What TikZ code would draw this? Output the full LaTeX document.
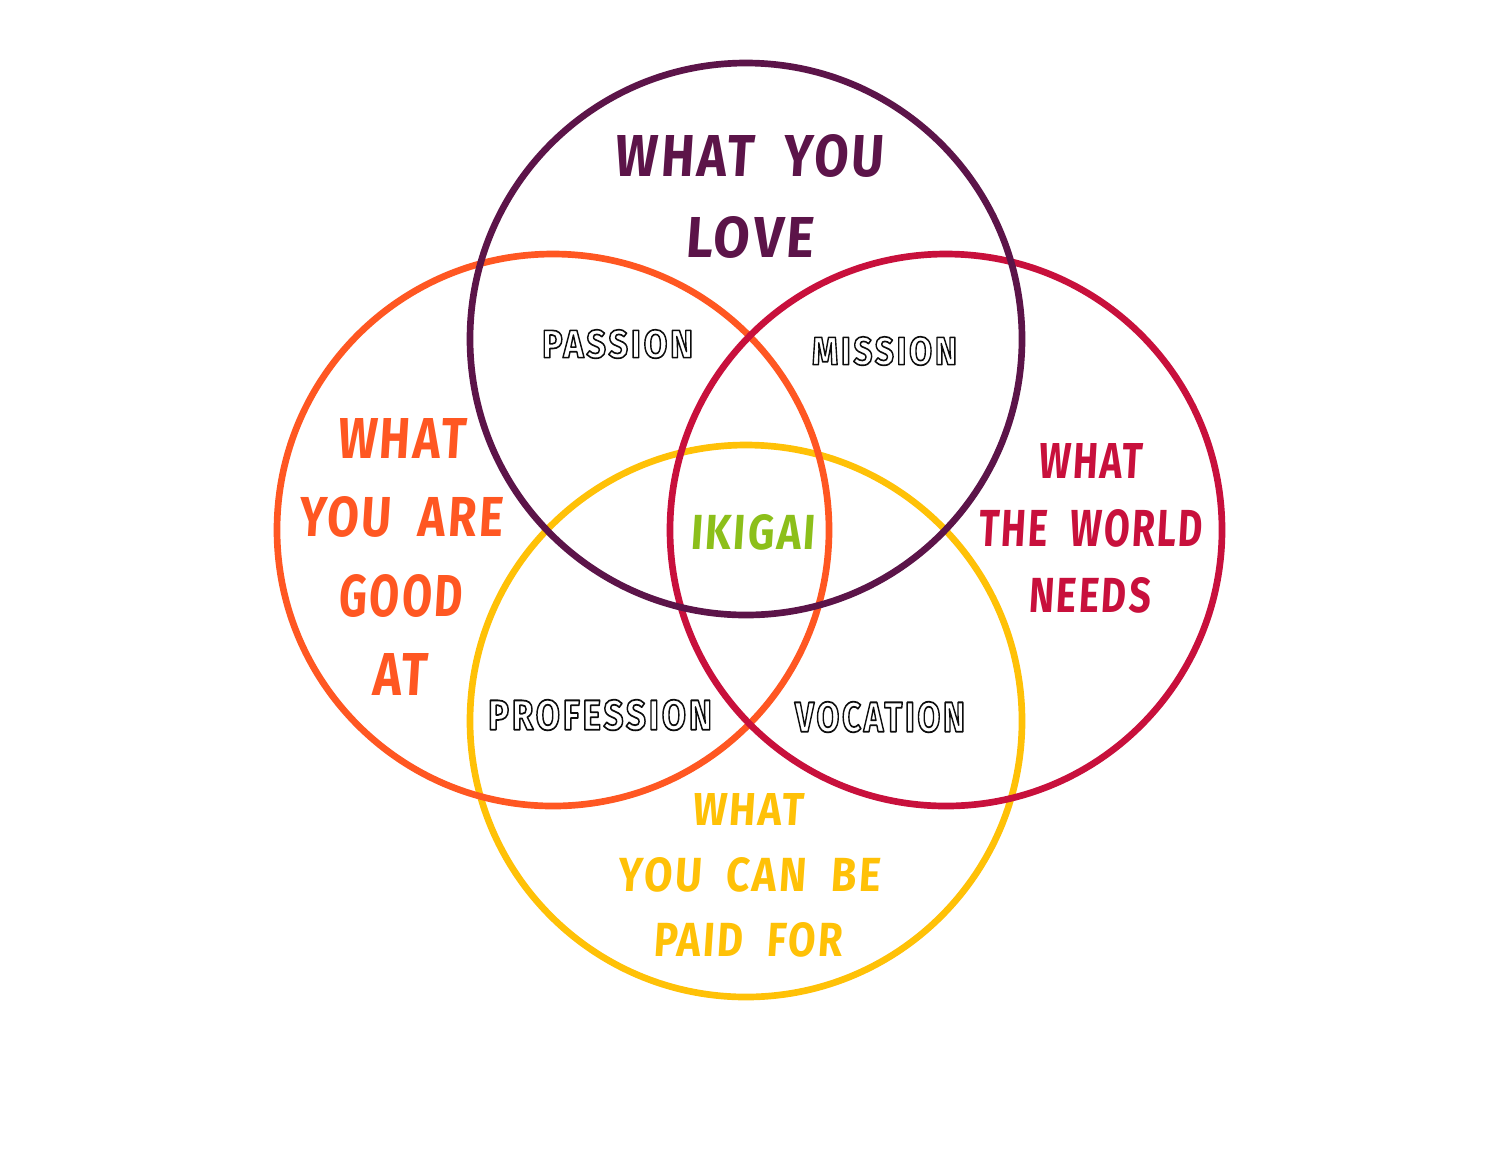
\documentclass[tikz,border=0pt]{standalone}
\usepackage{fontspec}
\setmainfont{Fira Sans}[LetterSpace=6, FakeSlant=0.08]
\newfontfamily\labfont{Fira Sans}[LetterSpace=8]
\usepackage{graphicx}
\definecolor{cpurple}{HTML}{5C1449}
\definecolor{corange}{HTML}{FF5722}
\definecolor{ccrimson}{HTML}{C8103C}
\definecolor{cyellow}{HTML}{FFC107}
\definecolor{cgreen}{HTML}{8CBF1A}
\newlength\pxu
\setlength\pxu{0.02cm}
\tikzset{
  ring/.style={line width=3.8pt},
  word/.style={inner sep=0pt, font=\fontsize{24}{28}\selectfont\bfseries},
  bubble/.style={inner sep=0pt, font=\labfont\fontsize{23}{26}\selectfont\bfseries},
}
\newcommand{\fit}[3]{\resizebox{#1\pxu}{#2\pxu}{#3}}
\newcommand{\outl}[1]{{\color{white}\special{pdf:literal direct 0.05 G 2 Tr 0.95 w 1 j 1 J}#1\special{pdf:literal direct 0 Tr}}}
\begin{document}
\begin{tikzpicture}[x=0.02cm,y=-0.02cm]
\useasboundingbox[fill=white] (0,0) rectangle (1500,1161);
% circles
\draw[ring,cyellow] (746,721) circle[radius=276];
\draw[ring,corange] (553,530) circle[radius=276];
\draw[ring,ccrimson] (946,530) circle[radius=276];
\draw[ring,cpurple] (746,339) circle[radius=276];
% WHAT YOU LOVE
\node[word,text=cpurple] (love1) at (749,156) {\fit{268}{42}{WHAT\ \ YOU}};
\node[word,text=cpurple] (love2) at (749,237.5) {\fit{128}{41}{LOVE}};
% WHAT YOU ARE GOOD AT
\node[word,text=corange] (good1) at (401,438) {\fit{128}{40}{WHAT}};
\node[word,text=corange] (good2) at (400.5,517) {\fit{205}{40}{YOU\ \ ARE}};
\node[word,text=corange] (good3) at (400,596) {\fit{124}{42}{GOOD}};
\node[word,text=corange] (good4) at (399.5,674) {\fit{55}{42}{AT}};
% WHAT THE WORLD NEEDS
\node[word,text=ccrimson] (world1) at (1090,460.5) {\fit{104}{35}{WHAT}};
\node[word,text=ccrimson] (world2) at (1090,528.5) {\fit{224}{37}{THE\ \ WORLD}};
\node[word,text=ccrimson] (world3) at (1089,595.5) {\fit{122}{35}{NEEDS}};
% WHAT YOU CAN BE PAID FOR
\node[word,text=cyellow] (paid1) at (747.5,809) {\fit{111}{32}{WHAT}};
\node[word,text=cyellow] (paid2) at (749,875) {\fit{262}{34}{YOU\ \ CAN\ \ BE}};
\node[word,text=cyellow] (paid3) at (747.5,940) {\fit{189}{34}{PAID\ \ FOR}};
% IKIGAI
\node[word,text=cgreen] (ikigai) at (752.5,532.5) {\fit{125}{35}{IKIGAI}};
% intersections
\node[bubble] (passion) at (617.5,344) {\fit{151}{28}{\outl{PASSION}}};
\node[bubble] (mission) at (884.5,351) {\fit{145}{28}{\outl{MISSION}}};
\node[bubble] (profession) at (600,715) {\fit{224}{30}{\outl{PROFESSION}}};
\node[bubble] (vocation) at (880,717) {\fit{170}{30}{\outl{VOCATION}}};
\end{tikzpicture}
\end{document}
